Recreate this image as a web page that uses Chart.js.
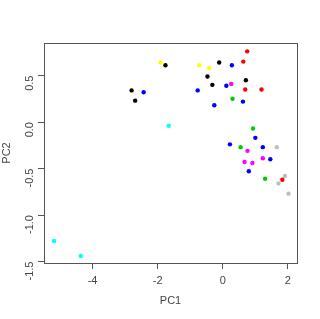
<!DOCTYPE html>
<html>
<head>
<meta charset="utf-8">
<script src="https://cdn.jsdelivr.net/npm/chart.js@4/dist/chart.umd.min.js"></script>
<style>
  html, body { margin: 0; padding: 0; background: #fff; }
  #wrap { width: 320px; height: 319px; }
</style>
</head>
<body>
<div id="wrap"><canvas id="pca"></canvas></div>
<script>
// PCA scores, one pair of arrays per group
const blackPC1 = [-1.76, -0.11, -0.47, -0.32, 0.71, -2.80, -2.69]
const blackPC2 = [0.61, 0.64, 0.49, 0.40, 0.45, 0.34, 0.23]
const redPC1 = [0.75, 0.63, 0.69, 1.19, 1.83]
const redPC2 = [0.76, 0.65, 0.35, 0.35, -0.62]
const greenPC1 = [0.30, 0.93, 0.55, 1.30]
const greenPC2 = [0.25, -0.07, -0.27, -0.61]
const bluePC1 = [0.28, 0.11, -0.77, 0.62, -0.26, -2.43, 1.00, 0.22, 1.23, 1.46, 0.80]
const bluePC2 = [0.61, 0.39, 0.34, 0.22, 0.18, 0.32, -0.17, -0.24, -0.27, -0.40, -0.53]
const cyanPC1 = [-1.66, -5.18, -4.36]
const cyanPC2 = [-0.04, -1.28, -1.44]
const magentaPC1 = [0.26, 0.76, 1.23, 0.67, 0.91]
const magentaPC2 = [0.41, -0.31, -0.39, -0.43, -0.44]
const yellowPC1 = [-1.91, -0.72, -0.42]
const yellowPC2 = [0.64, 0.61, 0.58]
const grayPC1 = [1.66, 1.91, 1.71, 2.02]
const grayPC2 = [-0.27, -0.58, -0.66, -0.77]

const xTicks = [-4, -2, 0, 2]
const xTickLabels = ['-4', '-2', '0', '2']
const yTicks = [-1.5, -1.0, -0.5, 0.0, 0.5]
const yTickLabels = ['-1.5', '-1.0', '-0.5', '0.0', '0.5']

const groups = [
  ['#000000', blackPC1, blackPC2],
  ['#ff0000', redPC1, redPC2],
  ['#00cd00', greenPC1, greenPC2],
  ['#0000ff', bluePC1, bluePC2],
  ['#00ffff', cyanPC1, cyanPC2],
  ['#ff00ff', magentaPC1, magentaPC2],
  ['#ffff00', yellowPC1, yellowPC2],
  ['#bebebe', grayPC1, grayPC2]
]

const datasets = groups.map(([color, xs, ys]) => ({
  data: xs.map((x, i) => ({x, y: ys[i]})),
  backgroundColor: color,
  borderColor: color,
  pointRadius: 2.2,
  borderWidth: 0
}))

// R style box around the plot region
const boxPlugin = {
  id: 'box',
  afterDraw(chart) {
    const {ctx, chartArea: a} = chart
    ctx.save()
    ctx.strokeStyle = '#555'
    ctx.lineWidth = 1
    ctx.strokeRect(a.left + 0.5, a.top + 0.5, a.right - a.left, a.bottom - a.top)
    ctx.restore()
  }
}

const font = {family: '"Liberation Sans", Arial, sans-serif', size: 11}

new Chart(document.getElementById('pca').getContext('2d'), {
  type: 'scatter',
  data: {datasets},
  options: {
    responsive: true,
    maintainAspectRatio: false,
    animation: false,
    layout: {padding: {top: 43, right: 23, left: 0, bottom: 0}},
    plugins: {legend: {display: false}, tooltip: {enabled: false}},
    scales: {
      x: {
        type: 'linear',
        min: -5.49, max: 2.28,
        afterBuildTicks: (s) => { s.ticks = xTicks.map(v => ({value: v})) },
        afterFit: (s) => { s.height = 56 },
        grid: {drawOnChartArea: false, tickLength: 6, color: '#555'},
        border: {display: false},
        ticks: {
          color: '#444', font, padding: 5, maxRotation: 0,
          callback: (v) => xTickLabels[xTicks.indexOf(v)]
        },
        title: {display: true, text: 'PC1', color: '#444', font, padding: {top: 0, bottom: 11}}
      },
      y: {
        type: 'linear',
        min: -1.516, max: 0.85,
        afterBuildTicks: (s) => { s.ticks = yTicks.map(v => ({value: v})) },
        afterFit: (s) => { s.width = 44 },
        grid: {drawOnChartArea: false, tickLength: 6, color: '#555'},
        border: {display: false},
        ticks: {
          color: '#444', font, padding: 8, minRotation: 90, maxRotation: 90,
          callback: (v) => yTickLabels[yTicks.indexOf(v)]
        },
        title: {display: true, text: 'PC2', color: '#444', font, padding: {top: 0, bottom: 0}}
      }
    }
  },
  plugins: [boxPlugin]
})
</script>
</body>
</html>
